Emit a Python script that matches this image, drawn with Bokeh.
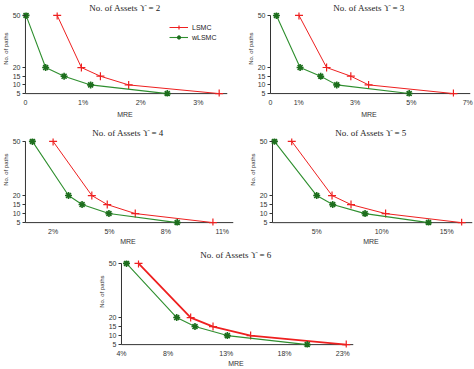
import numpy as np
from bokeh.plotting import figure
from bokeh.layouts import column, row
from bokeh.models import FixedTicker, Range1d, Legend, LegendItem, Title
from bokeh.embed import file_html
from bokeh.resources import INLINE

# ---------------- data ----------------
paths = [50, 20, 15, 10, 5]
y_ticks = [5, 10, 15, 20, 50]
y_tick_labels = ["5", "10", "15", "20", "50"]

assets = [2, 3, 4, 5, 6]

lsmc_2 = [0.55, 0.97, 1.30, 1.79, 3.36]
wlsmc_2 = [0.01, 0.35, 0.67, 1.13, 2.46]
lsmc_3 = [1.01, 1.99, 2.85, 3.48, 6.49]
wlsmc_3 = [0.21, 1.05, 1.78, 2.35, 4.92]
lsmc_4 = [2.00, 4.06, 4.88, 6.37, 10.50]
wlsmc_4 = [0.90, 2.82, 3.54, 4.97, 8.60]
lsmc_5 = [3.08, 6.18, 7.64, 10.30, 16.15]
wlsmc_5 = [1.75, 5.00, 6.23, 8.72, 13.60]
lsmc_6 = [5.46, 9.94, 11.86, 15.09, 23.30]
wlsmc_6 = [4.43, 8.74, 10.31, 13.09, 19.95]

x_ticks_2 = [0, 1, 2, 3]
x_labels_2 = ["0", "1%", "2%", "3%"]
x_ticks_3 = [0, 1, 3, 5, 7]
x_labels_3 = ["0", "1%", "3%", "5%", "7%"]
x_ticks_4 = [2, 5, 8, 11]
x_labels_4 = ["2%", "5%", "8%", "11%"]
x_ticks_5 = [5, 10, 15]
x_labels_5 = ["5%", "10%", "15%"]
x_ticks_6 = [4, 8, 13, 18, 23]
x_labels_6 = ["4%", "8%", "13%", "18%", "23%"]

series_names = ["LSMC", "wLSMC"]
x_label = "MRE"
y_label = "No. of paths"

# ---------------- layout (pixel geometry) ----------------
PAD = 3
COLS = [0, 237, 474]
ROWS = [0, 120, 247, 369]

RED = "#ee2020"
GREEN = "#2f8f2f"
GREEN_M = "#1d6e1d"
AX = "#333333"
TXT = "#333333"
SANS = "Liberation Sans"
SERIF = "Liberation Serif"


def make_panel(box, axis_px, xa, ppu, right_px, y50, y5, lsmc, wlsmc,
               xt, xl, n_assets, legend=False, red_w=1.0, xlab_standoff=2,
               title_standoff=1, ylab_offset=17):
    bx0, by0, bx1, by1 = box
    W, H = bx1 - bx0, by1 - by0
    fl = int(round(axis_px - PAD)) - bx0
    fr = int(round(right_px)) - bx0
    ft = int(round(y50 - PAD)) - by0
    fb = int(round(y5 + PAD)) - by0
    yppu = (y5 - y50) / 45.0
    x0 = xa - PAD / ppu
    x1 = xa + (right_px - axis_px) / ppu
    y0 = 5 - PAD / yppu
    y1 = 50 + PAD / yppu

    p = figure(width=W, height=H, x_range=Range1d(x0, x1), y_range=Range1d(y0, y1),
               output_backend="svg", toolbar_location=None,
               min_border_left=fl, min_border_right=W - fr,
               min_border_top=ft, min_border_bottom=H - fb,
               title="No. of Assets \u03d2 = %d" % n_assets)
    p.outline_line_color = None
    p.xgrid.visible = False
    p.ygrid.visible = False
    p.background_fill_color = "white"
    p.border_fill_color = "white"

    p.title.align = "center"
    p.title.text_font = SERIF
    p.title.text_font_size = "9px"
    p.title.text_font_style = "normal"
    p.title.text_color = "#222222"
    p.title.standoff = title_standoff

    xax = p.xaxis[0]
    xax.ticker = FixedTicker(ticks=xt)
    xax.major_label_overrides = {t: l for t, l in zip(xt, xl)}
    xax.minor_tick_line_color = None
    xax.major_tick_line_color = None
    xax.major_tick_in = 0
    xax.major_tick_out = 0
    xax.major_label_standoff = 2
    xax.major_label_text_font = SANS
    xax.major_label_text_font_size = "7px"
    xax.major_label_text_color = TXT
    xax.axis_line_color = None
    xax.axis_label = x_label
    xax.axis_label_text_font = SANS
    xax.axis_label_text_font_size = "7px"
    xax.axis_label_text_font_style = "normal"
    xax.axis_label_text_color = TXT
    xax.axis_label_standoff = xlab_standoff

    yax = p.yaxis[0]
    yax.ticker = FixedTicker(ticks=y_ticks)
    yax.major_label_overrides = {t: l for t, l in zip(y_ticks, y_tick_labels)}
    yax.minor_tick_line_color = None
    yax.major_tick_in = PAD
    yax.major_tick_out = 0
    yax.major_tick_line_color = AX
    yax.major_label_standoff = 2
    yax.major_label_text_font = SANS
    yax.major_label_text_font_size = "7px"
    yax.major_label_text_color = TXT
    yax.axis_line_color = None

    ytitle = Title(text=y_label, align="right", offset=ylab_offset, standoff=1,
                   text_font=SANS, text_font_size="6px", text_font_style="normal",
                   text_color=TXT)
    p.add_layout(ytitle, "left")

    # axis lines at the data origin of each panel
    p.segment(x0=[xa, xa], y0=[5, 5], x1=[x1, xa], y1=[5, 50], line_color=AX, line_width=1)

    r1 = p.line(lsmc, paths, line_color=RED, line_width=red_w)
    r2 = p.scatter(lsmc, paths, marker="cross", size=8, line_color=RED, line_width=1.2)
    r3 = p.line(wlsmc, paths, line_color=GREEN, line_width=1.1)
    r4 = p.scatter(wlsmc, paths, marker="asterisk", size=7, line_color=GREEN_M, line_width=1.6)

    if legend:
        leg = Legend(items=[LegendItem(label=series_names[0], renderers=[r1, r2]),
                            LegendItem(label=series_names[1], renderers=[r3, r4])],
                     location=(167 - bx0 - fl, fb - (42 - by0)),
                     label_text_font=SANS, label_text_font_size="7px",
                     label_text_color="#222222",
                     glyph_width=19, glyph_height=10, label_height=10,
                     label_standoff=4, spacing=0, padding=0, margin=0,
                     border_line_color=None, background_fill_alpha=0)
        p.add_layout(leg, "center")
    return p


p1 = make_panel((COLS[0], ROWS[0], COLS[1], ROWS[1]), 22.7, 0.0, 58.3, 227.0, 12.0, 93.0,
                lsmc_2, wlsmc_2, x_ticks_2, x_labels_2, assets[0], legend=True,
                title_standoff=0, ylab_offset=20)
p2 = make_panel((COLS[1], ROWS[0], COLS[2], ROWS[1]), 270.3, 0.0, 28.1, 469.7, 12.5, 92.5,
                lsmc_3, wlsmc_3, x_ticks_3, x_labels_3, assets[1], title_standoff=0,
                ylab_offset=20)
p3 = make_panel((COLS[0], ROWS[1], COLS[1], ROWS[2]), 22.0, 0.53, 19.07, 233.0, 141.0, 225.0,
                lsmc_4, wlsmc_4, x_ticks_4, x_labels_4, assets[2], xlab_standoff=0,
                ylab_offset=15)
p4 = make_panel((COLS[1], ROWS[1], COLS[2], ROWS[2]), 272.0, 1.6, 13.0, 472.0, 140.7, 226.0,
                lsmc_5, wlsmc_5, x_ticks_5, x_labels_5, assets[3], xlab_standoff=0,
                ylab_offset=15)
p5 = make_panel((COLS[0], ROWS[2], COLS[2], ROWS[3]), 120.7, 4.0, 11.66, 353.0, 262.0, 346.7,
                lsmc_6, wlsmc_6, x_ticks_6, x_labels_6, assets[4], red_w=1.8, xlab_standoff=0,
                ylab_offset=15)

layout = column(row(p1, p2, spacing=0), row(p3, p4, spacing=0), p5, spacing=0)

open("out.html", "w").write(file_html(layout, INLINE))
